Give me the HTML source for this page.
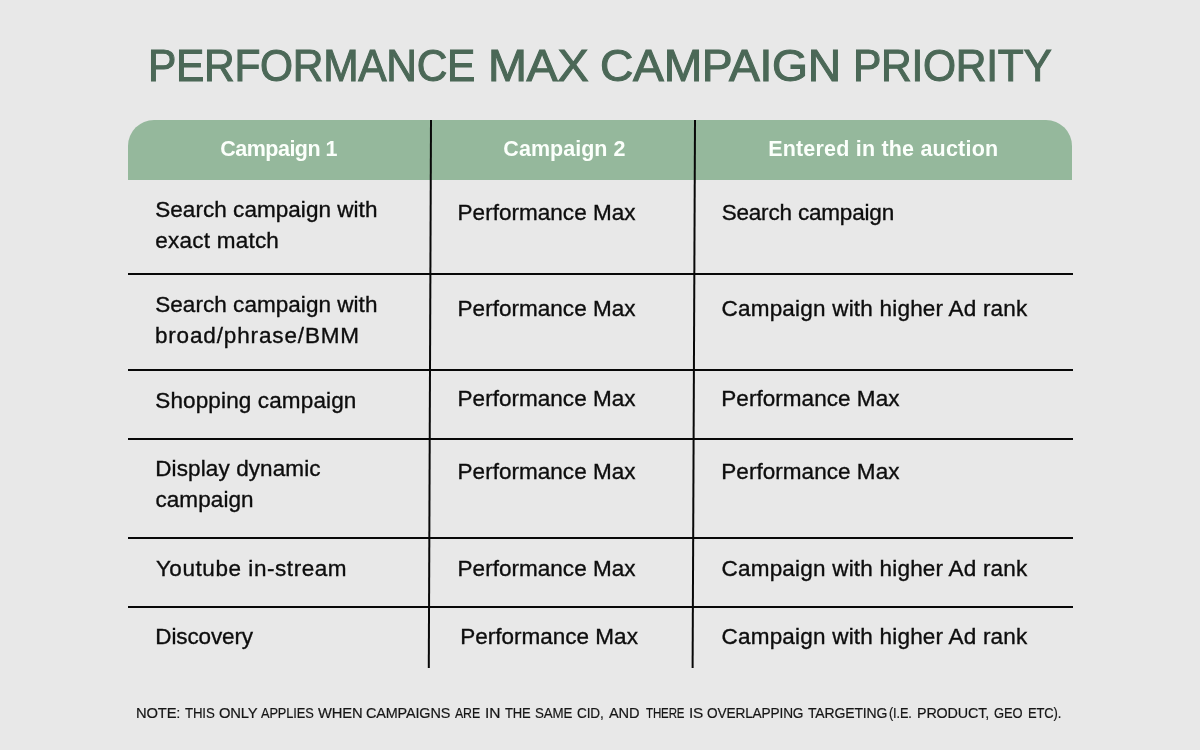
<!DOCTYPE html>
<html lang="en">
<head>
<meta charset="utf-8">
<title>Performance Max Campaign Priority</title>
<style>
html,body{margin:0;padding:0;}
body{width:1200px;height:750px;background:#e8e8e8;overflow:hidden;font-family:"Liberation Sans",sans-serif;color:#111;}
#page{position:absolute;left:0;top:0;width:1200px;height:750px;overflow:hidden;will-change:transform;}
h1,p{margin:0;padding:0;font-weight:normal;font-size:inherit;}
.abs{position:absolute;white-space:nowrap;line-height:1;transform-origin:0 0;}
.tt{font-size:44.5px;color:#4b6857;-webkit-text-stroke:1.05px #4b6857;}
#band{position:absolute;left:128px;top:120px;width:944px;height:60px;background:#95b89c;border-radius:26px 26px 0 0;}
.h{font-weight:bold;color:#fbfffb;font-size:21.5px;}
.t{font-size:22.5px;color:#0d0d0d;-webkit-text-stroke:0.35px #0d0d0d;}
.n{font-size:14.5px;color:#161616;-webkit-text-stroke:0.2px #161616;}
.vl{position:absolute;width:2.4px;background:#080808;transform-origin:50% 0;}
.hl{position:absolute;height:2.2px;background:#080808;left:127.5px;width:945px;}
</style>
</head>
<body>
<main id="page">
<h1 id="title">
  <span id="t1" class="abs tt" style="left:147.92px;top:44.49px;letter-spacing:-0.300px;transform:scaleX(0.9540);">PERFORMANCE</span> <span id="t2" class="abs tt" style="left:488.17px;top:44.49px;letter-spacing:-0.300px;transform:scaleX(1.0496);">MAX</span> <span id="t3" class="abs tt" style="left:599.70px;top:44.49px;letter-spacing:-0.300px;transform:scaleX(1.0394);">CAMPAIGN</span> <span id="t4" class="abs tt" style="left:852.92px;top:44.49px;letter-spacing:-0.300px;transform:scaleX(0.9553);">PRIORITY</span>
</h1>
<section id="table">
<div id="band"></div>
<div class="row head">
  <div id="h1" class="abs h" style="left:220.36px;top:139.00px;letter-spacing:-0.532px;">Campaign 1</div>
  <div id="h2" class="abs h" style="left:503.36px;top:139.00px;letter-spacing:0.024px;">Campaign 2</div>
  <div id="h3" class="abs h" style="left:768.13px;top:139.00px;letter-spacing:0.200px;">Entered in the auction</div>
</div>
<div class="row">
  <div id="a1" class="abs t" style="left:155.25px;top:199.00px;letter-spacing:0.043px;">Search campaign with</div>
  <div id="a1b" class="abs t" style="left:155.36px;top:230.00px;letter-spacing:0.220px;">exact match</div>
  <div id="b1" class="abs t" style="left:457.57px;top:202.00px;letter-spacing:0.029px;">Performance Max</div>
  <div id="c1" class="abs t" style="left:721.64px;top:202.00px;letter-spacing:-0.183px;">Search campaign</div>
</div>
<div class="row">
  <div id="a2" class="abs t" style="left:155.25px;top:294.00px;letter-spacing:0.043px;">Search campaign with</div>
  <div id="a2b" class="abs t" style="left:154.88px;top:325.00px;letter-spacing:0.859px;">broad/phrase/BMM</div>
  <div id="b2" class="abs t" style="left:457.57px;top:298.00px;letter-spacing:0.029px;">Performance Max</div>
  <div id="c2" class="abs t" style="left:721.50px;top:298.00px;letter-spacing:0.209px;">Campaign with higher Ad rank</div>
</div>
<div class="row">
  <div id="a3" class="abs t" style="left:155.25px;top:390.00px;letter-spacing:0.138px;">Shopping campaign</div>
  <div id="b3" class="abs t" style="left:457.57px;top:388.00px;letter-spacing:0.029px;">Performance Max</div>
  <div id="c3" class="abs t" style="left:721.28px;top:388.00px;letter-spacing:0.045px;">Performance Max</div>
</div>
<div class="row">
  <div id="a4" class="abs t" style="left:155.28px;top:458.00px;letter-spacing:0.105px;">Display dynamic</div>
  <div id="a4b" class="abs t" style="left:155.41px;top:489.00px;letter-spacing:0.093px;">campaign</div>
  <div id="b4" class="abs t" style="left:457.57px;top:461.00px;letter-spacing:0.029px;">Performance Max</div>
  <div id="c4" class="abs t" style="left:721.28px;top:461.00px;letter-spacing:0.045px;">Performance Max</div>
</div>
<div class="row">
  <div id="a5" class="abs t" style="left:155.88px;top:558.00px;letter-spacing:0.558px;">Youtube in-stream</div>
  <div id="b5" class="abs t" style="left:457.57px;top:558.00px;letter-spacing:0.029px;">Performance Max</div>
  <div id="c5" class="abs t" style="left:721.50px;top:558.00px;letter-spacing:0.209px;">Campaign with higher Ad rank</div>
</div>
<div class="row">
  <div id="a6" class="abs t" style="left:155.28px;top:626.00px;letter-spacing:-0.119px;">Discovery</div>
  <div id="b6" class="abs t" style="left:460.26px;top:626.00px;letter-spacing:0.005px;">Performance Max</div>
  <div id="c6" class="abs t" style="left:721.50px;top:626.00px;letter-spacing:0.209px;">Campaign with higher Ad rank</div>
</div>
<div id="v1" class="vl" style="left:429.9px;top:120px;height:548.3px;transform:rotate(0.23deg);"></div>
<div id="v2" class="vl" style="left:693.9px;top:120px;height:547.6px;transform:rotate(0.25deg);"></div>
<div id="l1" class="hl" style="top:272.9px;"></div>
<div id="l2" class="hl" style="top:368.9px;"></div>
<div id="l3" class="hl" style="top:437.8px;"></div>
<div id="l4" class="hl" style="top:536.9px;"></div>
<div id="l5" class="hl" style="top:605.5px;"></div>
</section>
<p id="note">
  <span id="n1" class="abs n" style="left:136.39px;top:706.00px;letter-spacing:-0.150px;transform:scaleX(1.0165);">NOTE:</span> <span id="n2" class="abs n" style="left:185.26px;top:706.00px;letter-spacing:-0.150px;transform:scaleX(0.9130);">THIS</span> <span id="n3" class="abs n" style="left:218.90px;top:706.00px;letter-spacing:-0.150px;transform:scaleX(1.0193);">ONLY</span> <span id="n4" class="abs n" style="left:261.36px;top:706.00px;letter-spacing:-0.150px;transform:scaleX(0.8848);">APPLIES</span> <span id="n5" class="abs n" style="left:318.28px;top:706.00px;letter-spacing:-0.150px;transform:scaleX(1.0164);">WHEN</span> <span id="n6" class="abs n" style="left:366.42px;top:706.00px;letter-spacing:-0.150px;transform:scaleX(0.9946);">CAMPAIGNS</span> <span id="n7" class="abs n" style="left:455.09px;top:706.00px;letter-spacing:-0.150px;transform:scaleX(0.8509);">ARE</span> <span id="n8" class="abs n" style="left:484.90px;top:706.00px;letter-spacing:-0.150px;transform:scaleX(1.0675);">IN</span> <span id="n9" class="abs n" style="left:504.64px;top:706.00px;letter-spacing:-0.150px;transform:scaleX(0.8957);">THE</span> <span id="n10" class="abs n" style="left:535.32px;top:706.00px;letter-spacing:-0.150px;transform:scaleX(0.9194);">SAME</span> <span id="n11" class="abs n" style="left:576.97px;top:706.00px;letter-spacing:-0.150px;transform:scaleX(0.9344);">CID,</span> <span id="n12" class="abs n" style="left:608.86px;top:706.00px;letter-spacing:-0.150px;transform:scaleX(1.0083);">AND</span> <span id="n13" class="abs n" style="left:645.50px;top:706.00px;letter-spacing:-0.150px;transform:scaleX(0.7940);">THERE</span> <span id="n14" class="abs n" style="left:688.62px;top:706.00px;letter-spacing:-0.150px;transform:scaleX(1.0597);">IS</span> <span id="n15" class="abs n" style="left:707.32px;top:706.00px;letter-spacing:-0.150px;transform:scaleX(0.9419);">OVERLAPPING</span> <span id="n16" class="abs n" style="left:807.56px;top:706.00px;letter-spacing:-0.150px;transform:scaleX(0.9646);">TARGETING</span> <span id="n17" class="abs n" style="left:888.83px;top:706.00px;letter-spacing:-0.150px;transform:scaleX(0.8777);">(I.E.</span> <span id="n18" class="abs n" style="left:916.55px;top:706.00px;letter-spacing:-0.150px;transform:scaleX(0.9883);">PRODUCT,</span> <span id="n19" class="abs n" style="left:994.20px;top:706.00px;letter-spacing:-0.150px;transform:scaleX(0.8920);">GEO</span> <span id="n20" class="abs n" style="left:1028.16px;top:706.00px;letter-spacing:-0.150px;transform:scaleX(0.8939);">ETC).</span>
</p>
</main>
</body>
</html>
